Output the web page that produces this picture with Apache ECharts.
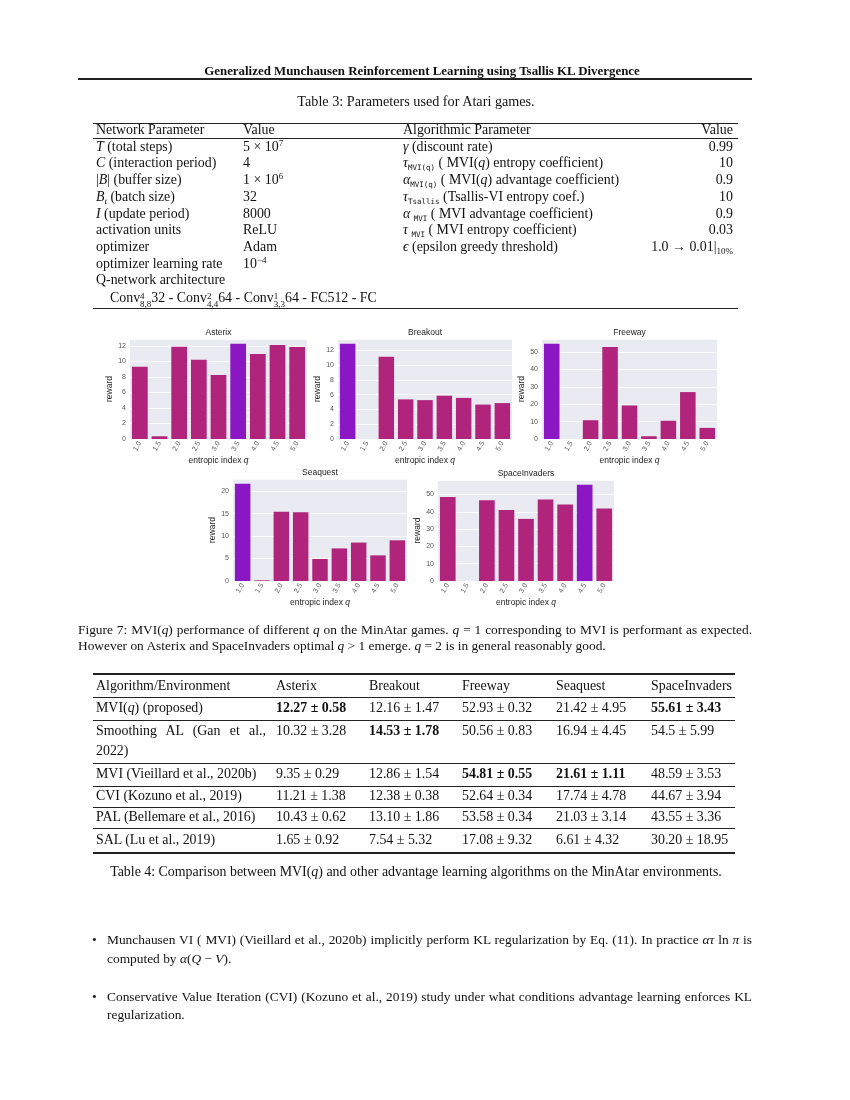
<!DOCTYPE html>
<html><head><meta charset="utf-8">
<script src="https://cdn.jsdelivr.net/npm/echarts@6/dist/echarts.min.js"></script>
<style>
body{margin:0;background:#fff;}
#page{position:relative;width:850px;height:1100px;overflow:hidden;font-family:"Liberation Serif","Times New Roman",serif;color:#111;background:#fff;}
#chart{position:absolute;left:0;top:0;width:850px;height:1100px;}
.t{position:absolute;white-space:nowrap;font-size:13.9px;line-height:16px;}
.p{font-size:13.4px;}
.rule{position:absolute;background:#222;}
.m{font-family:"DejaVu Sans Mono","Liberation Mono",monospace;font-size:7.5px;}
sub{font-size:9px;vertical-align:-3px;line-height:0;}
sup{font-size:9px;vertical-align:5px;line-height:0;}
.ss{display:inline-block;vertical-align:-5px;line-height:8px;font-size:9px;text-align:left;}
.b{font-weight:bold;}
</style></head>
<body><div id="page">
<div id="chart"></div>

<div class="t b" style="left:78px;width:688px;top:63px;text-align:center;font-size:12.9px;">Generalized Munchausen Reinforcement Learning using Tsallis KL Divergence</div>
<div class="rule" style="left:78px;top:78px;width:674px;height:2px;"></div>

<div class="t" style="left:78px;width:676px;top:93px;text-align:center;font-size:14.2px;">Table 3: Parameters used for Atari games.</div>

<div class="rule" style="left:93px;top:123px;width:645px;height:1px;"></div>
<div class="rule" style="left:93px;top:138px;width:645px;height:1px;"></div>
<div class="rule" style="left:93px;top:308px;width:645px;height:1.3px;"></div>

<div class="t" style="left:96px;top:122px;">Network Parameter</div>
<div class="t" style="left:243px;top:122px;">Value</div>
<div class="t" style="left:403px;top:122px;">Algorithmic Parameter</div>
<div class="t" style="right:117px;top:122px;">Value</div>

<div class="t" style="left:96px;top:139px;"><i>T</i> (total steps)</div>
<div class="t" style="left:243px;top:139px;">5 × 10<sup>7</sup></div>
<div class="t" style="left:403px;top:139px;"><i>γ</i> (discount rate)</div>
<div class="t" style="right:117px;top:139px;">0.99</div>

<div class="t" style="left:96px;top:155px;"><i>C</i> (interaction period)</div>
<div class="t" style="left:243px;top:155px;">4</div>
<div class="t" style="left:403px;top:155px;"><i>τ</i><sub class="m">MVI(q)</sub> ( MVI(<i>q</i>) entropy coefficient)</div>
<div class="t" style="right:117px;top:155px;">10</div>

<div class="t" style="left:96px;top:172px;">|<i>B</i>| (buffer size)</div>
<div class="t" style="left:243px;top:172px;">1 × 10<sup>6</sup></div>
<div class="t" style="left:403px;top:172px;"><i>α</i><sub class="m">MVI(q)</sub> ( MVI(<i>q</i>) advantage coefficient)</div>
<div class="t" style="right:117px;top:172px;">0.9</div>

<div class="t" style="left:96px;top:189px;"><i>B<sub>t</sub></i> (batch size)</div>
<div class="t" style="left:243px;top:189px;">32</div>
<div class="t" style="left:403px;top:189px;"><i>τ</i><sub class="m">Tsallis</sub> (Tsallis-VI entropy coef.)</div>
<div class="t" style="right:117px;top:189px;">10</div>

<div class="t" style="left:96px;top:206px;"><i>I</i> (update period)</div>
<div class="t" style="left:243px;top:206px;">8000</div>
<div class="t" style="left:403px;top:206px;"><i>α</i> <sub class="m">MVI</sub> ( MVI advantage coefficient)</div>
<div class="t" style="right:117px;top:206px;">0.9</div>

<div class="t" style="left:96px;top:222px;">activation units</div>
<div class="t" style="left:243px;top:222px;">ReLU</div>
<div class="t" style="left:403px;top:222px;"><i>τ</i> <sub class="m">MVI</sub> ( MVI entropy coefficient)</div>
<div class="t" style="right:117px;top:222px;">0.03</div>

<div class="t" style="left:96px;top:239px;">optimizer</div>
<div class="t" style="left:243px;top:239px;">Adam</div>
<div class="t" style="left:403px;top:239px;"><i>ϵ</i> (epsilon greedy threshold)</div>
<div class="t" style="right:117px;top:239px;">1.0 → 0.01|<sub>10%</sub></div>

<div class="t" style="left:96px;top:256px;">optimizer learning rate</div>
<div class="t" style="left:243px;top:256px;">10<sup>−4</sup></div>

<div class="t" style="left:96px;top:272px;">Q-network architecture</div>
<div class="t" style="left:110px;top:290px;">Conv<span class="ss">4<br>8,8</span>32 - Conv<span class="ss">2<br>4,4</span>64 - Conv<span class="ss">1<br>3,3</span>64 - FC512 - FC</div>

<div class="t p j" data-w="674" style="left:78px;top:622px;">Figure 7: MVI(<i>q</i>) performance of different <i>q</i> on the MinAtar games. <i>q</i> = 1 corresponding to MVI is performant as expected.</div>
<div class="t p" style="left:78px;top:638px;">However on Asterix and SpaceInvaders optimal <i>q</i> &gt; 1 emerge. <i>q</i> = 2 is in general reasonably good.</div>

<div class="rule" style="left:93px;top:673px;width:642px;height:1.5px;"></div>
<div class="rule" style="left:93px;top:697px;width:642px;height:1px;"></div>
<div class="rule" style="left:93px;top:720px;width:642px;height:1px;"></div>
<div class="rule" style="left:93px;top:763px;width:642px;height:1px;"></div>
<div class="rule" style="left:93px;top:786px;width:642px;height:1px;"></div>
<div class="rule" style="left:93px;top:807px;width:642px;height:1px;"></div>
<div class="rule" style="left:93px;top:828px;width:642px;height:1px;"></div>
<div class="rule" style="left:93px;top:852px;width:642px;height:1.5px;"></div>

<div class="t" style="left:96px;top:678px;">Algorithm/Environment</div>
<div class="t" style="left:276px;top:678px;">Asterix</div>
<div class="t" style="left:369px;top:678px;">Breakout</div>
<div class="t" style="left:462px;top:678px;">Freeway</div>
<div class="t" style="left:556px;top:678px;">Seaquest</div>
<div class="t" style="left:651px;top:678px;">SpaceInvaders</div>

<div class="t" style="left:96px;top:700px;">MVI(<i>q</i>) (proposed)</div>
<div class="t b" style="left:276px;top:700px;">12.27 ± 0.58</div>
<div class="t" style="left:369px;top:700px;">12.16 ± 1.47</div>
<div class="t" style="left:462px;top:700px;">52.93 ± 0.32</div>
<div class="t" style="left:556px;top:700px;">21.42 ± 4.95</div>
<div class="t b" style="left:651px;top:700px;">55.61 ± 3.43</div>

<div class="t j" data-w="170" style="left:96px;top:723px;">Smoothing AL (Gan et al.,</div>
<div class="t" style="left:96px;top:743px;">2022)</div>
<div class="t" style="left:276px;top:723px;">10.32 ± 3.28</div>
<div class="t b" style="left:369px;top:723px;">14.53 ± 1.78</div>
<div class="t" style="left:462px;top:723px;">50.56 ± 0.83</div>
<div class="t" style="left:556px;top:723px;">16.94 ± 4.45</div>
<div class="t" style="left:651px;top:723px;">54.5 ± 5.99</div>

<div class="t" style="left:96px;top:766px;">MVI (Vieillard et al., 2020b)</div>
<div class="t" style="left:276px;top:766px;">9.35 ± 0.29</div>
<div class="t" style="left:369px;top:766px;">12.86 ± 1.54</div>
<div class="t b" style="left:462px;top:766px;">54.81 ± 0.55</div>
<div class="t b" style="left:556px;top:766px;">21.61 ± 1.11</div>
<div class="t" style="left:651px;top:766px;">48.59 ± 3.53</div>

<div class="t" style="left:96px;top:788px;">CVI (Kozuno et al., 2019)</div>
<div class="t" style="left:276px;top:788px;">11.21 ± 1.38</div>
<div class="t" style="left:369px;top:788px;">12.38 ± 0.38</div>
<div class="t" style="left:462px;top:788px;">52.64 ± 0.34</div>
<div class="t" style="left:556px;top:788px;">17.74 ± 4.78</div>
<div class="t" style="left:651px;top:788px;">44.67 ± 3.94</div>

<div class="t" style="left:96px;top:809px;">PAL (Bellemare et al., 2016)</div>
<div class="t" style="left:276px;top:809px;">10.43 ± 0.62</div>
<div class="t" style="left:369px;top:809px;">13.10 ± 1.86</div>
<div class="t" style="left:462px;top:809px;">53.58 ± 0.34</div>
<div class="t" style="left:556px;top:809px;">21.03 ± 3.14</div>
<div class="t" style="left:651px;top:809px;">43.55 ± 3.36</div>

<div class="t" style="left:96px;top:832px;">SAL (Lu et al., 2019)</div>
<div class="t" style="left:276px;top:832px;">1.65 ± 0.92</div>
<div class="t" style="left:369px;top:832px;">7.54 ± 5.32</div>
<div class="t" style="left:462px;top:832px;">17.08 ± 9.32</div>
<div class="t" style="left:556px;top:832px;">6.61 ± 4.32</div>
<div class="t" style="left:651px;top:832px;">30.20 ± 18.95</div>

<div class="t" style="left:78px;width:676px;top:864px;text-align:center;">Table 4: Comparison between MVI(<i>q</i>) and other advantage learning algorithms on the MinAtar environments.</div>

<div class="t p" style="left:92px;top:932px;">•</div>
<div class="t p j" data-w="645" style="left:107px;top:932px;">Munchausen VI ( MVI) (Vieillard et al., 2020b) implicitly perform KL regularization by Eq. (11). In practice <i>ατ</i> ln <i>π</i> is</div>
<div class="t p" style="left:107px;top:951px;">computed by <i>α</i>(<i>Q</i> − <i>V</i>).</div>
<div class="t p" style="left:92px;top:989px;">•</div>
<div class="t p j" data-w="645" style="left:107px;top:989px;">Conservative Value Iteration (CVI) (Kozuno et al., 2019) study under what conditions advantage learning enforces KL</div>
<div class="t p" style="left:107px;top:1007px;">regularization.</div>
</div>

<script>
// justify single lines by adjusting word spacing
document.querySelectorAll('.j').forEach(el => {
  const target = parseFloat(el.dataset.w);
  const natural = el.getBoundingClientRect().width;
  const spaces = (el.textContent.match(/ /g) || []).length;
  if (spaces > 0) el.style.wordSpacing = ((target - natural) / spaces) + 'px';
});

// ---- data ----
const qLabels = ['1.0','1.5','2.0','2.5','3.0','3.5','4.0','4.5','5.0'];
const games = ['Asterix','Breakout','Freeway','Seaquest','SpaceInvaders'];
const asterix = [9.3, 0.35, 11.9, 10.2, 8.25, 12.27, 10.95, 12.1, 11.85];
const breakout = [12.86, 0, 11.1, 5.35, 5.25, 5.85, 5.55, 4.65, 4.85];
const freeway = [54.81, 0, 10.8, 52.93, 19.3, 1.6, 10.5, 27.0, 6.4];
const seaquest = [21.61, 0.15, 15.4, 15.3, 4.9, 7.25, 8.55, 5.7, 9.05];
const spaceInvaders = [48.59, 0, 46.7, 41.1, 35.9, 47.1, 44.2, 55.61, 41.9];
const yTickSteps = [2, 2, 10, 5, 10];

// ---- layout ----
const seriesData = [asterix, breakout, freeway, seaquest, spaceInvaders];
const gridBoxes = [
  {left:130, top:339, width:177, height:100},
  {left:338, top:339, width:174, height:100},
  {left:542, top:339, width:175, height:100},
  {left:233, top:479, width:174, height:102},
  {left:438, top:480, width:176, height:101}
];
const barColor = '#B0247C';
const bestColor = '#8A16C4';
const sansFont = '"Liberation Sans", Arial, sans-serif';

const chart = echarts.init(document.getElementById('chart'), null, {renderer:'canvas'});
const grid = [], xAxis = [], yAxis = [], series = [], graphic = [];
games.forEach((g, i) => {
  const vals = seriesData[i];
  const mx = Math.max(...vals);
  const best = vals.indexOf(mx);
  const b = gridBoxes[i];
  grid.push({left:b.left, top:b.top, width:b.width, height:b.height, show:true, backgroundColor:'#EAEAF2', borderWidth:0});
  xAxis.push({
    gridIndex:i, type:'category', data:qLabels,
    axisLine:{show:false}, axisTick:{show:false},
    axisLabel:{rotate:60, fontSize:7, color:'#555', margin:3, interval:0, fontFamily:sansFont},
    name:'entropic index {i|q}', nameLocation:'middle', nameGap:15,
    nameTextStyle:{fontSize:8.5, color:'#222', fontFamily:sansFont, rich:{i:{fontStyle:'italic', fontSize:8.5, color:'#222', fontFamily:sansFont}}}
  });
  yAxis.push({
    gridIndex:i, type:'value', min:0, max: mx*1.05, interval: yTickSteps[i],
    axisLine:{show:false}, axisTick:{show:false},
    axisLabel:{fontSize:7, color:'#555', margin:4, showMaxLabel:false, fontFamily:sansFont},
    splitLine:{lineStyle:{color:'#ffffff', width:0.8}},
    name:'reward', nameLocation:'middle', nameGap:12,
    nameTextStyle:{fontSize:8.5, color:'#222', fontFamily:sansFont}
  });
  series.push({
    type:'bar', xAxisIndex:i, yAxisIndex:i, barCategoryGap:'20%',
    data: vals.map((v, k) => ({value:v, itemStyle:{color: k === best ? bestColor : barColor}})),
    silent:true, animation:false
  });
  graphic.push({
    type:'text', x: b.left + b.width/2, y: b.top - 6,
    style:{text:g, fontSize:8.5, fill:'#222', fontFamily:sansFont, textAlign:'center', textVerticalAlign:'middle'}
  });
});
chart.setOption({animation:false, grid, xAxis, yAxis, series, graphic});
</script>
</body></html>
